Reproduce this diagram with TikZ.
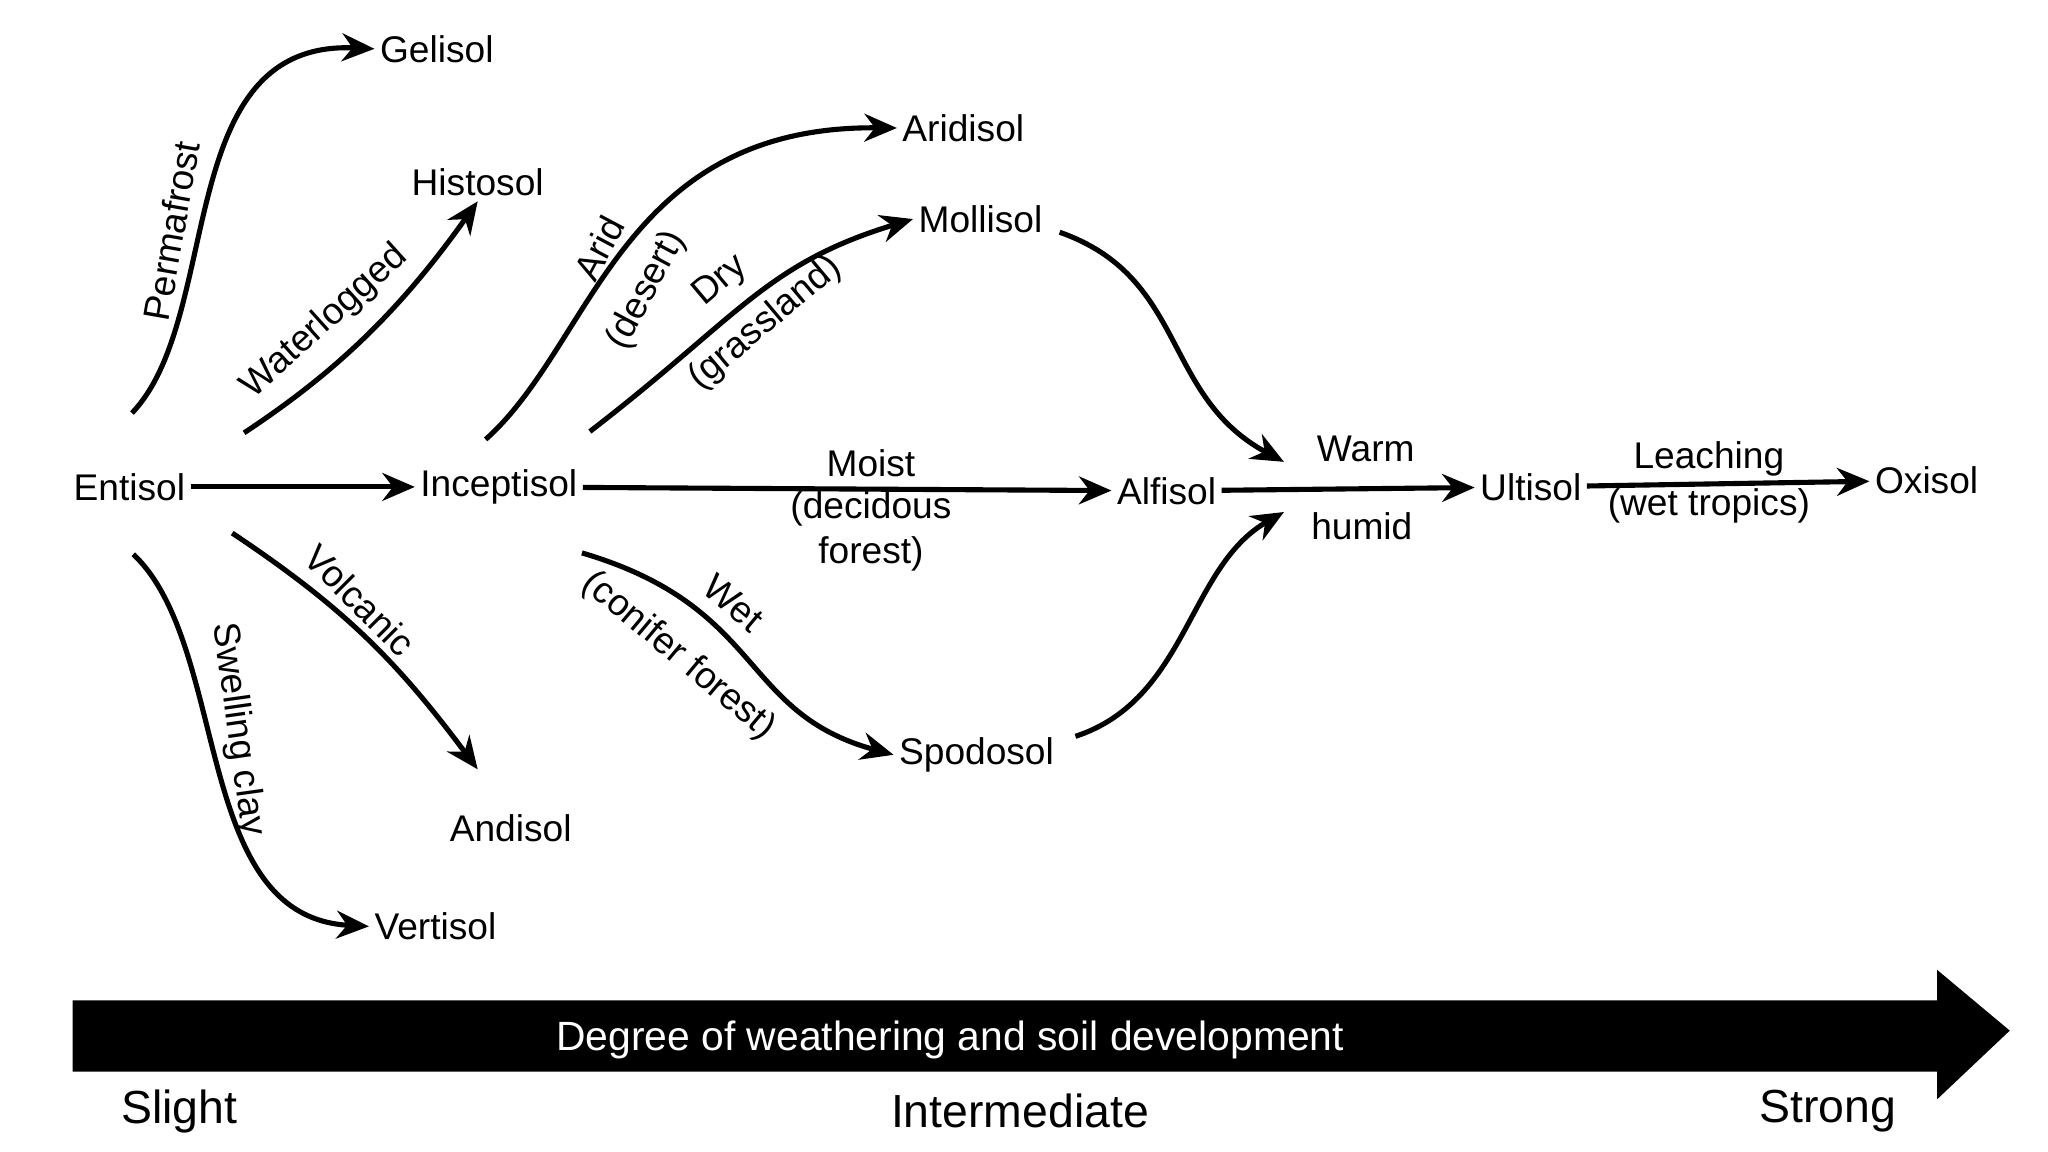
\documentclass[tikz,border=0pt]{standalone}
\usepackage{fontspec}
\setmainfont{Liberation Sans}
\usetikzlibrary{arrows.meta}
\begin{document}
\begin{tikzpicture}[x=0.01cm,y=0.01cm,
  lab/.style={font=\fontsize{8}{9}\selectfont,inner sep=1pt},
  arr/.style={line width=1.1pt,-{Stealth[length=7pt,width=6pt]}},
  big/.style={font=\fontsize{10}{12}\selectfont}]
\useasboundingbox (0,0) rectangle (1552,-873);
% soil nodes
\node[lab] (ent) at (98,-369) {Entisol};
\node[lab] (inc) at (378,-369) {Inceptisol};
\node[lab] (alf) at (884,-372) {Alfisol};
\node[lab] (ult) at (1160,-369) {Ultisol};
\node[lab] (oxi) at (1460,-364) {Oxisol};
\node[lab] (gel) at (331,-37) {Gelisol};
\node[lab] (his) at (362,-138) {Histosol};
\node[lab] (ari) at (730,-97) {Aridisol};
\node[lab] (mol) at (743,-166) {Mollisol};
\node[lab] (spo) at (740,-572) {Spodosol};
\node[lab] (and) at (387,-628) {Andisol};
\node[lab] (ver) at (330,-702) {Vertisol};
% free coordinates
\coordinate (p1) at (100,-313);
\coordinate (w1) at (185,-328);
\coordinate (a1) at (368,-333);
\coordinate (d1) at (447,-327);
\coordinate (v1) at (176,-404);
\coordinate (s1) at (101,-420);
\coordinate (t1) at (441,-419);
\coordinate (m1) at (803,-176);
\coordinate (sp1) at (815,-558);
\coordinate (j1) at (973,-350);
\coordinate (j2) at (973,-388);
% connectors
\draw[arr] (ent) -- (inc);
\draw[arr] (p1) .. controls (170,-240) and (130,-30) .. (gel.west);
\draw[arr] (w1) .. controls (250,-285) and (300,-240) .. (his.south);
\draw[arr] (a1) .. controls (450,-260) and (470,-95) .. (ari.west);
\draw[arr] (d1) .. controls (560,-240) and (580,-200) .. (mol.west);
\draw[arr] (inc) -- (alf);
\draw[arr] (v1) .. controls (260,-460) and (300,-500) .. (362,-583);
\draw[arr] (s1) .. controls (175,-490) and (145,-695) .. (ver.west);
\draw[arr] (t1) .. controls (580,-460) and (560,-540) .. (spo.west);
\draw[arr] (m1) .. controls (900,-210) and (880,-300) .. (j1);
\draw[arr] (sp1) .. controls (900,-530) and (900,-430) .. (j2);
\draw[arr] (alf) -- (ult);
\draw[arr] (ult) -- (oxi);
% connector labels
\node[lab,rotate=80] (lp) at (130,-175) {Permafrost};
\node[lab,rotate=42] (lw) at (246,-244) {Waterlogged};
\node[lab,rotate=62] (la) at (454,-188) {Arid};
\node[lab,rotate=62] (la2) at (490,-220) {(desert)};
\node[lab,rotate=40] (ld) at (546,-213) {Dry};
\node[lab,rotate=40] (ld2) at (580,-245) {(grassland)};
\node[lab] (lm) at (660,-351) {Moist};
\node[lab] (lm2) at (660,-386) {(decidous};
\node[lab] (lm3) at (660,-420) {forest)};
\node[lab,rotate=-45] (lv) at (273,-455) {Volcanic};
\node[lab,rotate=-82] (ls) at (180,-553) {Swelling clay};
\node[lab,rotate=-40] (lt) at (556,-457) {Wet};
\node[lab,rotate=-40] (lt2) at (514,-497) {(conifer forest)};
\node[lab] (lwa) at (1035,-340) {Warm};
\node[lab] (lhu) at (1032,-399) {humid};
\node[lab] (lle) at (1295,-348) {Leaching};
\node[lab] (lwt) at (1295,-383) {(wet tropics)};
% big arrow
\fill (55,-758) -- (1468,-758) -- (1468,-735) -- (1523,-781) -- (1468,-833) -- (1468,-812) -- (55,-812) -- cycle;
\node[text=white,font=\fontsize{8.8}{11}\selectfont] (deg) at (720,-788) {Degree of weathering and soil development};
\node[big] (sl) at (136,-842) {Slight};
\node[big] (im) at (773,-842) {Intermediate};
\node[big] (st) at (1385,-842) {Strong};
\end{tikzpicture}
\end{document}
